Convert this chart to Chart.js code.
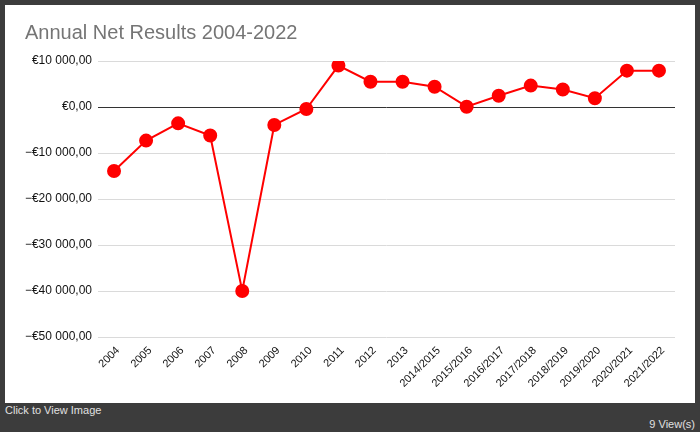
<!DOCTYPE html>
<html>
<head>
<meta charset="utf-8">
<script src="https://cdn.jsdelivr.net/npm/chart.js@4"></script>
<style>
  html, body { margin: 0; padding: 0; }
  body { width: 700px; height: 432px; background: #3c3c3c; position: relative; overflow: hidden; font-family: "Liberation Sans", Arial, sans-serif; }
  #frame { position: absolute; left: 5px; top: 5px; width: 690px; height: 398px; background: #fff; }
  #footer-left { position: absolute; left: 5px; top: 404px; font-size: 11px; color: #e0e0e0; }
  #footer-right { position: absolute; right: 5px; top: 418px; font-size: 11px; color: #e0e0e0; }
</style>
</head>
<body>
<div id="frame"><canvas id="chart" width="690" height="398"></canvas></div>
<div id="footer-left">Click to View Image</div>
<div id="footer-right">9 View(s)</div>
<script>
const years = ['2004', '2005', '2006', '2007', '2008', '2009', '2010', '2011', '2012', '2013',
  '2014/2015', '2015/2016', '2016/2017', '2017/2018', '2018/2019', '2019/2020', '2020/2021', '2021/2022'];
const netResults = [-13900, -7300, -3550, -6200, -40000, -3900, -430, 9000, 5500, 5500,
  4400, 70, 2450, 4650, 3800, 1900, 7900, 7900];
const yMin = -50000;
const yMax = 10000;
const yStep = 10000;

function fmtEuro(v) {
  const abs = Math.abs(v).toFixed(0).replace(/\B(?=(\d{3})+(?!\d))/g, ' ');
  return (v < 0 ? '\u2212' : '') + '\u20ac' + abs + ',00';
}

new Chart(document.getElementById('chart'), {
  type: 'line',
  data: {
    labels: years,
    datasets: [{
      label: 'Net result',
      data: netResults,
      borderColor: '#ff0000',
      backgroundColor: '#ff0000',
      borderWidth: 2,
      pointRadius: 6,
      pointHoverRadius: 6,
      tension: 0
    }]
  },
  options: {
    responsive: false,
    animation: false,
    layout: { padding: { left: 20, right: 20, top: 0, bottom: 0 } },
    plugins: {
      legend: { display: false },
      tooltip: { enabled: false },
      title: {
        display: true,
        text: 'Annual Net Results 2004-2022',
        align: 'start',
        color: '#757575',
        font: { family: 'Liberation Sans', size: 20, weight: 'normal', lineHeight: 1.2 },
        padding: { top: 16, bottom: 16 }
      }
    },
    scales: {
      x: {
        offset: true,
        grid: { display: false, drawTicks: false },
        border: { display: false },
        ticks: {
          autoSkip: false,
          maxRotation: 45,
          minRotation: 45,
          padding: 7,
          labelOffset: 4,
          color: '#111',
          font: { family: 'Liberation Sans', size: 11 }
        },
        afterFit: s => { s.height = 66; }
      },
      y: {
        min: yMin,
        max: yMax,
        grid: {
          drawTicks: false,
          color: ctx => ctx.tick && ctx.tick.value === 0 ? '#333' : '#dadada',
          lineWidth: 1
        },
        border: { display: false },
        ticks: {
          stepSize: yStep,
          padding: 6,
          color: '#111',
          font: { family: 'Liberation Sans', size: 12 },
          callback: v => fmtEuro(v)
        },
        afterFit: s => { s.width = 73; }
      }
    }
  }
});
</script>
</body>
</html>
